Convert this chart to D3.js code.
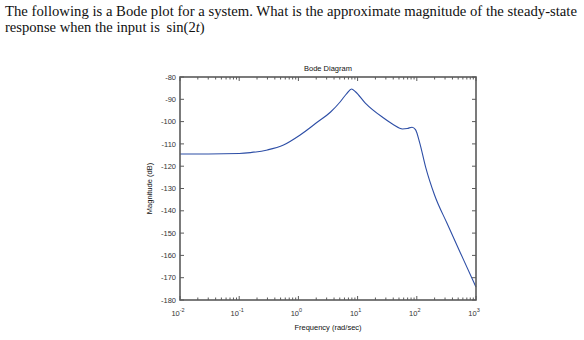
<!DOCTYPE html>
<html><head><meta charset="utf-8">
<script src="https://cdn.jsdelivr.net/npm/d3@7"></script>
<style>body{margin:0;background:#fff}svg{display:block}</style>
</head><body>
<svg id="c" width="584" height="340"></svg>
<script>
const questionLine1 = "The following is a Bode plot for a system. What is the approximate magnitude of the steady-state";
const questionLine2 = "response when the input is ";
const chartTitle = "Bode Diagram";
const xLabel = "Frequency  (rad/sec)";
const yLabel = "Magnitude (dB)";
const freq = [0.01, 0.03, 0.1, 0.155, 0.3, 0.56, 1.07, 2.1, 3.5, 5.1, 6.6, 7.9, 9.2, 13.5, 27.5, 41, 57, 69, 83, 95, 112, 141, 200, 324, 617, 1000];
const magDb = [-114.5, -114.5, -114.3, -113.9, -112.7, -110.5, -106, -100.2, -95.7, -91.1, -87.3, -85.4, -86.6, -91.7, -98.4, -101.5, -103.3, -103.1, -102.5, -103.6, -109.5, -120.4, -133, -145.6, -162, -174.2];
const yTicks = [-80, -90, -100, -110, -120, -130, -140, -150, -160, -170, -180];
const xExponents = [-2, -1, 0, 1, 2, 3];

const svg = d3.select("#c");
const L = 180, R = 476, T = 77, B = 300;
const x = d3.scaleLog().domain([0.01, 1000]).range([L, R]);
const y = d3.scaleLinear().domain([-180, -80]).range([B, T]);

// Question text
const q = svg.append("g").attr("font-family", "'Liberation Serif', 'Times New Roman', serif").attr("font-size", 14.6).attr("fill", "#111");
q.append("text").attr("x", 5).attr("y", 16).attr("textLength", 572).attr("lengthAdjust", "spacingAndGlyphs").text(questionLine1);
const t2 = q.append("text").attr("x", 5).attr("y", 32);
t2.append("tspan").text(questionLine2);
t2.append("tspan").attr("dx", 3).text("sin(2");
t2.append("tspan").attr("font-style", "italic").text("t");
t2.append("tspan").text(")");

const axisCol = "#5a5a5a";
const fnt = "'Liberation Sans', Arial, sans-serif";

// plot line
const line = d3.line().x((d, i) => x(freq[i])).y(d => y(d)).curve(d3.curveMonotoneX);
svg.append("path").datum(magDb).attr("d", line).attr("fill", "none").attr("stroke", "#2d4ea6").attr("stroke-width", 1.1);

// ticks
const g = svg.append("g").attr("stroke", axisCol);
yTicks.forEach(v => {
  g.append("line").attr("x1", L).attr("x2", L + 4).attr("y1", y(v)).attr("y2", y(v)).attr("stroke-width", 1);
  g.append("line").attr("x1", R).attr("x2", R - 4).attr("y1", y(v)).attr("y2", y(v)).attr("stroke-width", 1);
});
xExponents.forEach(e => {
  const v = Math.pow(10, e);
  g.append("line").attr("x1", x(v)).attr("x2", x(v)).attr("y1", B).attr("y2", B - 4).attr("stroke-width", 1);
  g.append("line").attr("x1", x(v)).attr("x2", x(v)).attr("y1", T).attr("y2", T + 4).attr("stroke-width", 1);
  if (e < 3) {
    for (let k = 2; k <= 9; k++) {
      const m = k * v;
      g.append("line").attr("x1", x(m)).attr("x2", x(m)).attr("y1", B).attr("y2", B - 2.5).attr("stroke-width", 1);
      g.append("line").attr("x1", x(m)).attr("x2", x(m)).attr("y1", T).attr("y2", T + 2.5).attr("stroke-width", 1);
    }
  }
});
svg.append("rect").attr("x", L).attr("y", T).attr("width", R - L).attr("height", B - T)
  .attr("fill", "none").attr("stroke", axisCol).attr("stroke-width", 1.6);

// y tick labels
svg.append("g").selectAll("text").data(yTicks).join("text")
  .attr("x", L - 4).attr("y", d => y(d) + 2.6).attr("text-anchor", "end")
  .attr("font-family", fnt).attr("font-size", 7.5).attr("fill", "#333").text(d => d);

// x tick labels
const xl = svg.append("g").attr("font-family", fnt).attr("fill", "#333");
xExponents.forEach(e => {
  const v = Math.pow(10, e);
  const t = xl.append("text").attr("x", x(v) - 2).attr("y", 316).attr("text-anchor", "middle").attr("font-size", 7.5);
  t.append("tspan").text("10");
  t.append("tspan").attr("dy", -4).attr("font-size", 5.5).text(e);
});

// title and labels
svg.append("text").attr("x", (L + R) / 2).attr("y", 71).attr("text-anchor", "middle")
  .attr("font-family", fnt).attr("font-size", 7.5).attr("fill", "#111").text(chartTitle);
svg.append("text").attr("x", (L + R) / 2).attr("y", 330).attr("text-anchor", "middle")
  .attr("font-family", fnt).attr("font-size", 7.5).attr("fill", "#111").text(xLabel);
svg.append("text").attr("transform", `translate(152,${(T + B) / 2}) rotate(-90)`).attr("text-anchor", "middle")
  .attr("font-family", fnt).attr("font-size", 7.5).attr("fill", "#111").text(yLabel);
</script>
</body></html>
